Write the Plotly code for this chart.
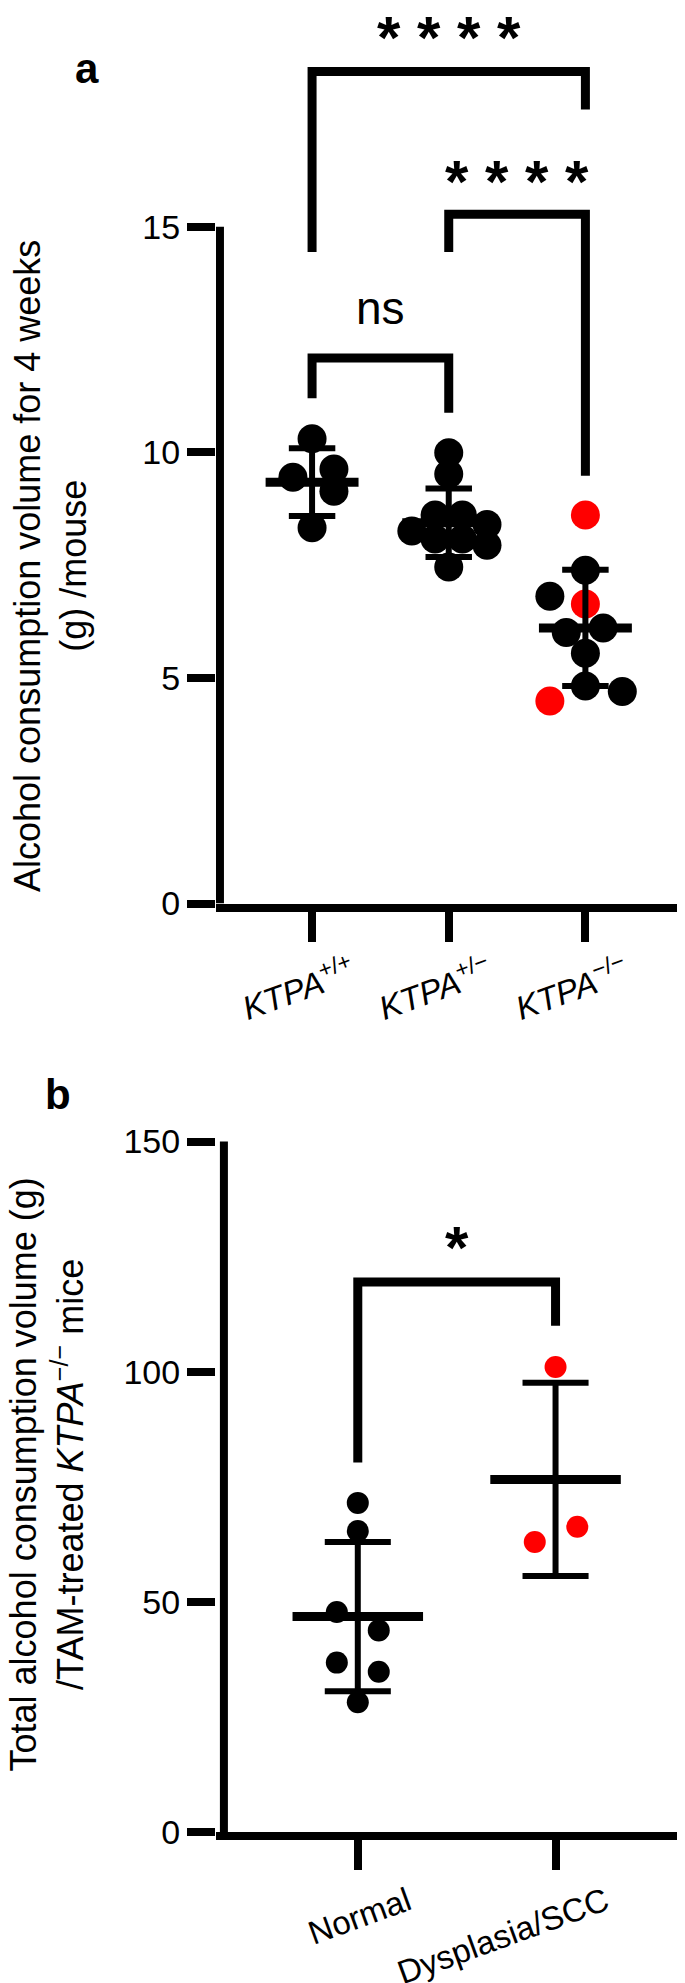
import plotly.graph_objects as go

# panel a: alcohol consumption for 4 weeks (g) / mouse
a_groups = ["<i>KTPA</i><sup>+/+</sup>", "<i>KTPA</i><sup>+/−</sup>", "<i>KTPA</i><sup>−/−</sup>"]
a_vals = [
    [10.3, 9.45, 9.63, 9.14, 8.33],
    [9.99, 9.52, 8.61, 8.61, 8.26, 8.40, 8.08, 8.08, 7.94, 7.46],
    [8.61, 7.39, 6.81, 6.64, 6.01, 6.11, 5.55, 4.82, 4.70, 4.49],
]
a_jitter = [
    [0, -0.14, 0.16, 0.16, 0],
    [0, 0, -0.1, 0.1, -0.27, 0.28, -0.1, 0.1, 0.28, 0],
    [0, 0, -0.26, 0, -0.14, 0.13, 0, 0, 0.27, -0.26],
]
a_red = [
    [0, 0, 0, 0, 0],
    [0] * 10,
    [1, 0, 0, 1, 0, 0, 0, 0, 0, 1],
]
a_mean = [9.34, 8.44, 6.11]
a_sd = [0.75, 0.76, 1.29]

# panel b: total alcohol consumption (g)
b_groups = ["Normal", "Dysplasia/SCC"]
b_vals = [[71.5, 65.4, 47.8, 43.8, 36.8, 34.8, 28.2], [101.0, 66.3, 63.0]]
b_jitter = [[0, 0, -0.106, 0.106, -0.106, 0.106, 0], [0, 0.11, -0.105]]
b_red = [[0] * 7, [1, 1, 1]]
b_mean = [46.8, 76.6]
b_sd = [16.2, 21.0]

# significance brackets: (left, right, top, left leg bottom, right leg bottom, label, label y)
a_brackets = [
    (0, 1, 12.09, 11.2, 10.88, "ns", 13.2),
    (1, 2, 15.28, 14.44, 9.48, "* * * *", 16.0),
    (0, 2, 18.44, 14.44, 17.6, "* * * *", 19.2),
]
b_brackets = [(0, 1, 119.5, 80.3, 110.0, "*", 127.0)]

RED = "#ff0000"
FONT = "Liberation Sans, Arial, sans-serif"
NARROW = "Liberation Sans Narrow, Liberation Sans, Arial, sans-serif"

fig = go.Figure()


def add_panel(vals, jit, red, mean, sd, brackets, xa, ya, msize, half_mean, half_cap, ymax):
    for i, v in enumerate(vals):
        fig.add_trace(go.Scatter(
            x=[i + j for j in jit[i]], y=v, mode="markers", xaxis=xa, yaxis=ya,
            marker=dict(size=msize, color=[RED if r else "black" for r in red[i]]),
            showlegend=False, hoverinfo="y"))
        # mean line
        fig.add_trace(go.Scatter(x=[i - half_mean, i + half_mean], y=[mean[i], mean[i]],
                                 mode="lines", line=dict(color="black", width=9),
                                 xaxis=xa, yaxis=ya, showlegend=False, hoverinfo="skip"))
        # sd whisker + caps
        lo, hi = mean[i] - sd[i], mean[i] + sd[i]
        fig.add_trace(go.Scatter(
            x=[i, i, None, i - half_cap, i + half_cap, None, i - half_cap, i + half_cap],
            y=[lo, hi, None, hi, hi, None, lo, lo],
            mode="lines", line=dict(color="black", width=6),
            xaxis=xa, yaxis=ya, showlegend=False, hoverinfo="skip"))
    for l, r, top, lb, rb, lab, ly in brackets:
        fig.add_trace(go.Scatter(x=[l, l, r, r], y=[lb, top, top, rb], mode="lines",
                                 line=dict(color="black", width=9), xaxis=xa, yaxis=ya,
                                 showlegend=False, hoverinfo="skip"))
        txt = lab if lab == "ns" else "<b>" + lab + "</b>"
        fig.add_annotation(x=(l + r) / 2, y=ly, xref=xa, yref=ya, text=txt, showarrow=False,
                           font=dict(size=46 if lab == "ns" else 60, family=FONT, color="black"),
                           yanchor="middle")
    # y axis line, stops at the top tick
    fig.add_trace(go.Scatter(x=[xaxis_line[xa]] * 2, y=[0, ymax], mode="lines",
                             line=dict(color="black", width=8), xaxis=xa, yaxis=ya,
                             showlegend=False, hoverinfo="skip"))


xaxis_line = {"x": -0.674, "x2": -0.677}
add_panel(a_vals, a_jitter, a_red, a_mean, a_sd, a_brackets, "x", "y", 29, 0.34, 0.17, 15)
add_panel(b_vals, b_jitter, b_red, b_mean, b_sd, b_brackets, "x2", "y2", 22, 0.33, 0.167, 150)

xcommon = dict(showline=True, linecolor="black", linewidth=8, ticks="outside", ticklen=30,
               tickwidth=8, tickcolor="black", showgrid=False, zeroline=False,
               tickangle=-20, tickfont=dict(size=33, family=FONT, color="black"))
ycommon = dict(showline=False, ticks="outside", ticklen=28, tickwidth=8, tickcolor="black",
               showgrid=False, zeroline=False, tickfont=dict(size=34, family=FONT, color="black"))

fig.update_layout(
    width=685, height=1983, plot_bgcolor="white", paper_bgcolor="white",
    margin=dict(l=208, r=1, t=0, b=147),
    xaxis=dict(xcommon, domain=[0, 1], range=[-0.703, 2.78], anchor="y",
               tickvals=[0, 1, 2], ticktext=a_groups, ticklabelshift=40),
    yaxis=dict(ycommon, domain=[0.509, 1], range=[0, 19.85], anchor="x",
               tickvals=[0, 5, 10, 15]),
    xaxis2=dict(xcommon, domain=[0, 1], range=[-0.717, 1.69], anchor="y2",
                tickvals=[0, 1], ticktext=b_groups, ticklabelshift=50),
    yaxis2=dict(ycommon, domain=[0, 0.401], range=[0, 158.9], anchor="x2",
                tickvals=[0, 50, 100, 150]),
)

# y titles and panel letters
fig.add_annotation(x=-0.347, y=0.694, xref="paper", yref="paper", textangle=-90,
                   xanchor="center", yanchor="middle",
                   text="Alcohol consumption volume for 4 weeks<br>(g) /mouse",
                   showarrow=False, font=dict(size=36, family=NARROW, color="black"))
fig.add_annotation(x=-0.353, y=0.196, xref="paper", yref="paper", textangle=-90,
                   xanchor="center", yanchor="middle",
                   text="Total alcohol consumption volume (g)<br>/TAM-treated <i>KTPA</i><sup>−/−</sup> mice",
                   showarrow=False, font=dict(size=36, family=NARROW, color="black"))
fig.add_annotation(x=-0.272, y=(1836 - 61) / 1836, xref="paper", yref="paper", text="<b>a</b>",
                   xanchor="center", yanchor="middle",
                   showarrow=False, font=dict(size=42, family=FONT, color="black"))
fig.add_annotation(x=-0.332, y=(1836 - 1094) / 1836, xref="paper", yref="paper", text="<b>b</b>",
                   xanchor="center", yanchor="middle",
                   showarrow=False, font=dict(size=42, family=FONT, color="black"))

fig.write_html("out.html")
